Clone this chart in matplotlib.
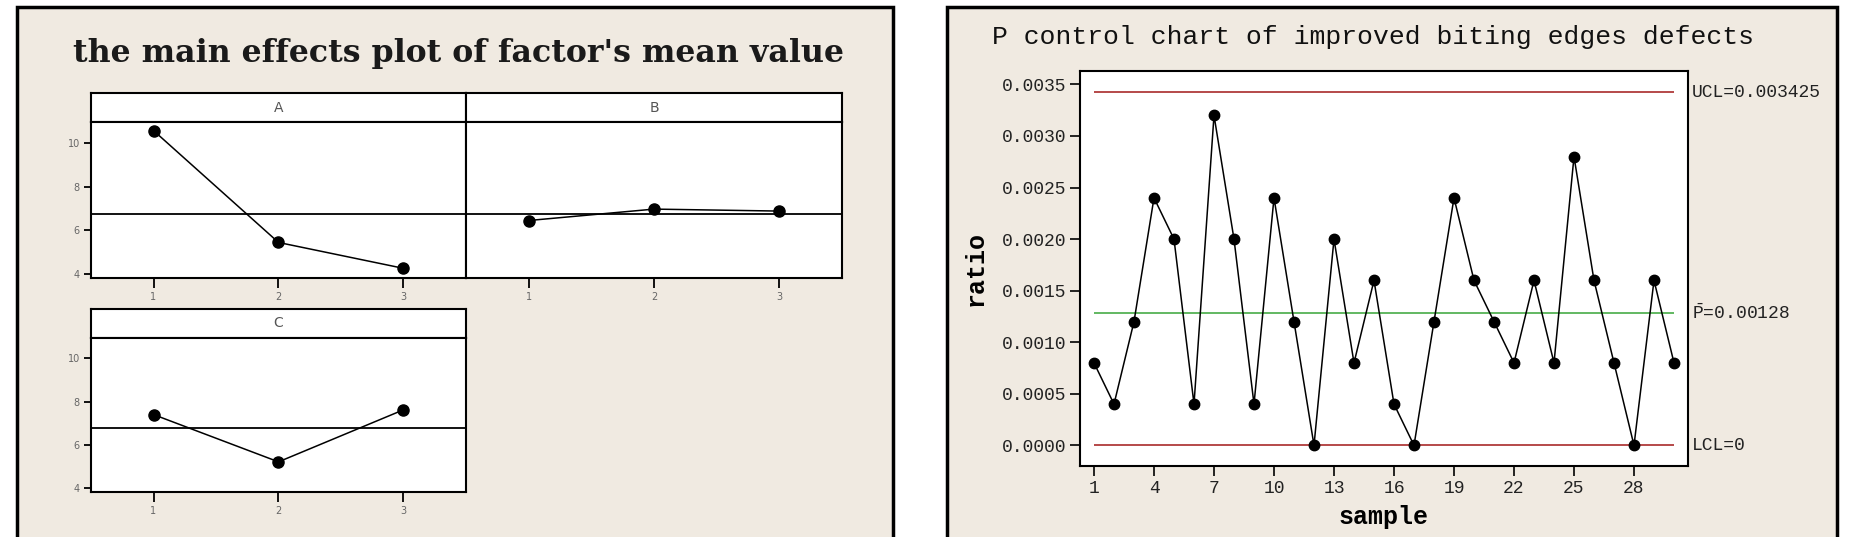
import numpy as np
import matplotlib
matplotlib.use("Agg")
import matplotlib.pyplot as plt
from matplotlib.patches import Rectangle

# main effects data (factor levels 1..3)
levels = [1, 2, 3]
effect_A = [10.55, 5.45, 4.27]
effect_B = [6.45, 6.97, 6.88]
effect_C = [7.40, 5.22, 7.62]
grand_mean = 6.76

# p chart data
samples = list(range(1, 31))
ratio = [0.0008, 0.0004, 0.0012, 0.0024, 0.0020, 0.0004, 0.0032, 0.0020, 0.0004, 0.0024,
         0.0012, 0.0000, 0.0020, 0.0008, 0.0016, 0.0004, 0.0000, 0.0012, 0.0024, 0.0016,
         0.0012, 0.0008, 0.0016, 0.0008, 0.0028, 0.0016, 0.0008, 0.0000, 0.0016, 0.0008]
ucl = 0.003425
p_bar = 0.00128
lcl = 0.0

W, H = 1865, 537
BG = '#f0eae1'

plt.rcParams['mathtext.fontset'] = 'custom'
plt.rcParams['mathtext.rm'] = 'Liberation Mono'

fig = plt.figure(figsize=(W / 100, H / 100), dpi=100)
fig.patch.set_facecolor('white')


def box(x0, y0, x1, y1):
    # pixel box (top-left origin) -> figure fraction rect
    return [x0 / W, 1 - y1 / H, (x1 - x0) / W, (y1 - y0) / H]


# panel frames, kept behind the axes
for (x0, x1) in [(17, 893), (947, 1837)]:
    r = Rectangle((x0 / W, -0.01), (x1 - x0) / W, 1.01 - 7 / H, transform=fig.transFigure,
                  facecolor=BG, edgecolor='black', linewidth=2.5, zorder=-5)
    fig.add_artist(r)

# ---------------- left: main effects plot ----------------
fig.text(459 / W, 1 - 53 / H, "the main effects plot of factor's mean value",
         ha='center', va='center', fontsize=22.8, fontweight='bold',
         family='DejaVu Serif', color='#1a1a1a')

facets = [('A', effect_A, 91, 466, 93, 122, 278, True),
          ('B', effect_B, 466, 842, 93, 122, 278, False),
          ('C', effect_C, 91, 466, 308.6, 337.8, 492, True)]

for name, vals, x0, x1, s0, s1, y1, show_y in facets:
    st = fig.add_axes(box(x0, s0, x1, s1))
    st.set_facecolor('white')
    st.set_xticks([])
    st.set_yticks([])
    for sp in st.spines.values():
        sp.set_linewidth(1.5)
    st.text(0.5, 0.5, name, ha='center', va='center', fontsize=10, color='#555555')

    ax = fig.add_axes(box(x0, s1, x1, y1))
    ax.set_facecolor('white')
    ax.axhline(grand_mean, color='black', linewidth=1.3)
    ax.plot(levels, vals, color='black', linewidth=1.1, marker='o', markersize=8)
    ax.set_xlim(0.5, 3.5)
    ax.set_ylim(3.83, 10.94)
    ax.set_xticks(levels)
    ax.set_yticks([4, 6, 8, 10])
    ax.tick_params(axis='x', length=7, width=1.3, labelsize=7, labelcolor='#666666', pad=3)
    ax.tick_params(axis='y', length=5, width=1.3, labelsize=7, labelcolor='#666666', pad=3)
    if not show_y:
        ax.tick_params(axis='y', left=False, labelleft=False)
    for sp in ax.spines.values():
        sp.set_linewidth(1.5)

# ---------------- right: p control chart ----------------
mono = 'Liberation Mono'
fig.text(992 / W, 1 - 37 / H, "P control chart of improved biting edges defects",
         ha='left', va='center', fontsize=19, family=mono, color='#111111')

ax = fig.add_axes(box(1080, 71, 1688, 466))
ax.set_facecolor('white')
ax.hlines([ucl, lcl], samples[0], samples[-1], color='#b03a3a', linewidth=1.3)
ax.hlines(p_bar, samples[0], samples[-1], color='#55b255', linewidth=1.3)
ax.plot(samples, ratio, color='black', linewidth=1.1, marker='o', markersize=7.5, zorder=3)
ax.set_xlim(0.3, 30.7)
ax.set_ylim(-0.0002, 0.00363)
ax.set_xticks(samples[::3])
yt = np.arange(0, 0.0036, 0.0005)
ax.set_yticks(yt)
ax.set_yticklabels([f'{v:.4f}' for v in yt])
ax.tick_params(length=7, width=1.2, labelsize=13, labelcolor='#222222', pad=3)
for lab in ax.get_xticklabels() + ax.get_yticklabels():
    lab.set_family(mono)
for sp in ax.spines.values():
    sp.set_linewidth(1.5)

ax.set_xlabel('sample', family=mono, fontsize=18, fontweight='bold', labelpad=6)
ax.set_ylabel('ratio', family=mono, fontsize=18, fontweight='bold', labelpad=10)

tr = ax.get_yaxis_transform()
ax.text(1.006, ucl, 'UCL=0.003425', transform=tr, ha='left', va='center',
        fontsize=13, family=mono, color='#222222')
ax.text(1.006, p_bar, r'$\bar{\mathrm{P}}$=0.00128', transform=tr, ha='left', va='center',
        fontsize=13, family=mono, color='#222222')
ax.text(1.006, lcl, 'LCL=0', transform=tr, ha='left', va='center',
        fontsize=13, family=mono, color='#222222')

fig.savefig('out.png', dpi=100)
